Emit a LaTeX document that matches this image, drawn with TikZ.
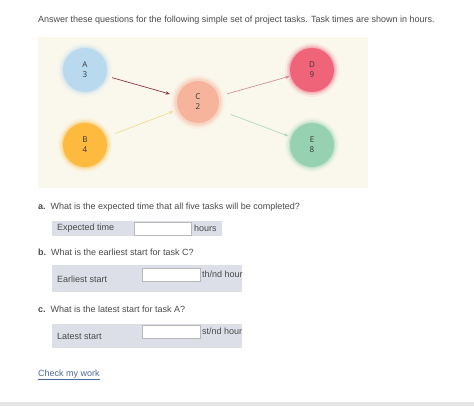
\documentclass[tikz,border=0pt]{standalone}
\usepackage{fontspec}
\setmainfont{Liberation Sans}
\newfontfamily\circfont{Open Sans}
\usetikzlibrary{arrows.meta}
\definecolor{panel}{HTML}{FAF8EC}
\definecolor{cA}{HTML}{B9D9EF}
\definecolor{cB}{HTML}{FDBA3E}
\definecolor{cC}{HTML}{F7B49D}
\definecolor{cD}{HTML}{EF6479}
\definecolor{cE}{HTML}{96D2B1}
\definecolor{txt}{HTML}{4A4A4A}
\definecolor{rowgray}{HTML}{DCDFE7}
\definecolor{inborder}{HTML}{B8B8B8}
\definecolor{linkc}{HTML}{4B6A9B}
\definecolor{aAC}{HTML}{8E3445}
\definecolor{aBC}{HTML}{F0DC90}
\definecolor{aCD}{HTML}{D4909B}
\definecolor{aCE}{HTML}{AFD8C0}
\definecolor{bottomband}{HTML}{E6E6E6}
\begin{document}
\begin{tikzpicture}[x=1pt,y=-1pt,
  task/.style={circle, minimum size=44pt, inner sep=0pt, font=\circfont\fontsize{8}{10}\selectfont, text=black!80, align=center},
  flow/.style={-{Stealth[length=4.5pt,width=3.5pt]}, line width=0.7pt},
  q/.style={anchor=west, inner sep=0pt, font=\fontsize{9}{11}\selectfont, text=txt},
  lbl/.style={anchor=west, inner sep=0pt, font=\fontsize{9}{11}\selectfont, text=txt},
  inbox/.style={fill=white, draw=inborder, line width=0.5pt}]
\useasboundingbox (0,0) rectangle (474,406);
\fill[white] (0,0) rectangle (474,406);
\fill[bottomband] (0,402) rectangle (474,406);

\node[q] (intro) at (38,20) {Answer these questions for the following simple set of project tasks. Task times are shown in hours.};

% panel
\fill[panel] (38,37) rectangle (368,188);

\coordinate (pA) at (85,70);
\coordinate (pB) at (85,145);
\coordinate (pC) at (198,102);
\coordinate (pD) at (312,70);
\coordinate (pE) at (312,145);
\foreach \p/\c in {pA/cA,pB/cB,pC/cC,pD/cD,pE/cE}{
  \fill[\c, opacity=0.10] (\p) circle (27pt);
  \fill[\c, opacity=0.18] (\p) circle (25pt);
  \fill[\c, opacity=0.30] (\p) circle (23.5pt);
}
\node[task, fill=cA] (A) at (pA) {A\\3};
\node[task, fill=cB] (B) at (pB) {B\\4};
\node[task, fill=cC, minimum size=42pt] (C) at (pC) {C\\2};
\node[task, fill=cD] (D) at (pD) {D\\9};
\node[task, fill=cE] (E) at (pE) {E\\8};

\draw[flow, aAC, shorten <=6pt, shorten >=8pt] (A) -- (C);
\draw[flow, aBC, shorten <=10pt, shorten >=5pt] (B) -- (C);
\draw[flow, aCD, shorten <=9pt, shorten >=1pt] (C) -- (D);
\draw[flow, aCE, shorten <=14pt, shorten >=3pt] (C) -- (E);

% question a
\node[q] (qa) at (38,207) {\textbf{a.}\ \ What is the expected time that all five tasks will be completed?};
\fill[rowgray] (52,221) rectangle (222,236);
\draw[inbox] (134,222) rectangle (191,235);
\node[lbl] (la) at (57,228.5) {Expected time};
\node[lbl] (ua) at (194,228.5) {hours};

% question b
\node[q] (qb) at (38,252) {\textbf{b.}\ \ What is the earliest start for task C?};
\fill[rowgray] (52,265) rectangle (242,292);
\draw[inbox] (142,268) rectangle (200,281);
\node[lbl] (lb) at (57,279) {Earliest start};
\node[lbl] (ub) at (202,274) {th/nd hour};

% question c
\node[q] (qc) at (38,309) {\textbf{c.}\ \ What is the latest start for task A?};
\fill[rowgray] (52,324) rectangle (242,348);
\draw[inbox] (142,325) rectangle (200,338);
\node[lbl] (lc) at (57,336) {Latest start};
\node[lbl] (uc) at (202,331) {st/nd hour};

\node[q, text=linkc] (chk) at (38,375) {\underline{Check my work}};
\end{tikzpicture}
\end{document}
